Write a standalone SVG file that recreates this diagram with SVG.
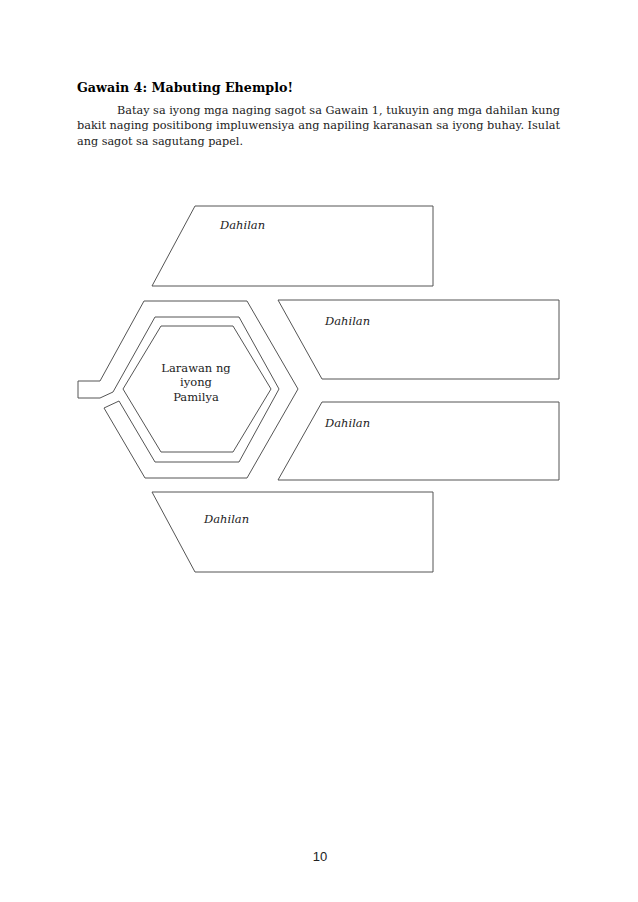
<svg xmlns="http://www.w3.org/2000/svg" width="638" height="902" viewBox="0 0 638 902">
<style>
.shape{fill:#fff;stroke:#555;stroke-width:1;stroke-linejoin:miter}
.title{font-family:"DejaVu Serif","Liberation Serif",serif;font-weight:bold;font-size:13.5px;fill:#000}
.body{font-family:"DejaVu Serif","Liberation Serif",serif;font-size:11.3px;fill:#222}
.lbl{font-family:"DejaVu Serif","Liberation Serif",serif;font-style:italic;font-size:11.5px;fill:#222}
.ctr{font-family:"DejaVu Serif","Liberation Serif",serif;font-size:11.5px;fill:#222;text-anchor:middle}
.pg{font-family:"Liberation Sans","DejaVu Sans",sans-serif;font-size:13px;fill:#222;text-anchor:middle}
</style>
<rect width="638" height="902" fill="#fff"/>
<g id="heading">
<text class="title" x="77" y="92" textLength="216" lengthAdjust="spacingAndGlyphs">Gawain 4: Mabuting Ehemplo!</text>
<text class="body" x="117" y="114" textLength="443" lengthAdjust="spacingAndGlyphs">Batay sa iyong mga naging sagot sa Gawain 1, tukuyin ang mga dahilan kung</text>
<text class="body" x="77" y="129" textLength="483" lengthAdjust="spacingAndGlyphs">bakit naging positibong impluwensiya ang napiling karanasan sa iyong buhay. Isulat</text>
<text class="body" x="77" y="145" textLength="166" lengthAdjust="spacingAndGlyphs">ang sagot sa sagutang papel.</text>
</g>
<g id="ring">
<polygon class="shape" points="78,381 100,381 144,301 247,301 298,389 247,478 145,478 104,408 119,401 155,462 239,462 279,389 239,317 155,317 113,392 100,398 78,398"/>
</g>
<g id="center">
<polygon class="shape" points="161,326 233,326 271,389 233,452 161,452 123,389"/>
<text class="ctr" x="196" y="372">Larawan ng</text>
<text class="ctr" x="196" y="386">iyong</text>
<text class="ctr" x="196" y="401">Pamilya</text>
</g>
<g id="dahilan1">
<polygon class="shape" points="195,206 433,206 433,286 152,286"/>
<text class="lbl" x="220" y="229">Dahilan</text>
</g>
<g id="dahilan2">
<polygon class="shape" points="278,300 559,300 559,379 322,379"/>
<text class="lbl" x="325" y="325">Dahilan</text>
</g>
<g id="dahilan3">
<polygon class="shape" points="322,402 559,402 559,480 278,480"/>
<text class="lbl" x="325" y="427">Dahilan</text>
</g>
<g id="dahilan4">
<polygon class="shape" points="152,492 433,492 433,572 195,572"/>
<text class="lbl" x="204" y="523">Dahilan</text>
</g>
<g id="connectors"></g>
<text class="pg" x="320" y="861">10</text>
</svg>
